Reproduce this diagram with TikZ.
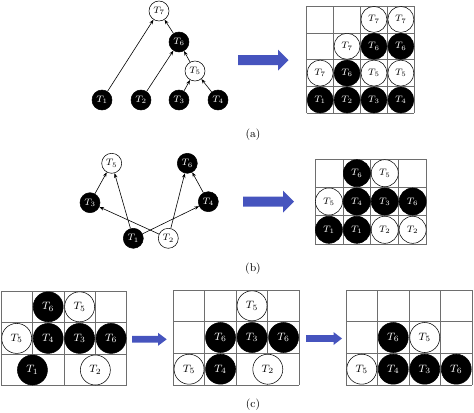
\documentclass[tikz,border=0pt]{standalone}
\usetikzlibrary{arrows.meta}
\definecolor{arrowblue}{RGB}{70,84,190}
\definecolor{gridgray}{RGB}{110,110,110}
\newcommand\drawgridlines[6]{%
  \foreach \i in {0,...,#5} \draw[gline] ({#1+\i*#3},#2) -- ({#1+\i*#3},{#2+#6*#4});
  \foreach \j in {0,...,#6} \draw[gline] (#1,{#2+\j*#4}) -- ({#1+#5*#3},{#2+\j*#4});
}
\newcommand\blockarrow[6]{%
  \fill[arrowblue] (#1,{#4-#5}) -- (#2,{#4-#5}) -- (#2,{#4-#6}) -- (#3,#4) -- (#2,{#4+#6}) -- (#2,{#4+#5}) -- (#1,{#4+#5}) -- cycle;
}
\begin{document}
\begin{tikzpicture}[x=0.75pt,y=-0.75pt,
  tn/.style={circle, draw=black, line width=0.4pt, inner sep=0pt, minimum size=15pt, font=\fontsize{7.3}{8}\selectfont},
  bt/.style={tn, fill=black, text=white},
  wt/.style={tn, fill=white, text=black},
  arr/.style={draw=black, line width=0.45pt, -{Stealth[length=3.5pt,width=2.6pt]}},
  gline/.style={draw=gridgray, line width=0.5pt},
  csa/.style={minimum size=19.5pt, font=\fontsize{7}{8}\selectfont},
  csb/.style={minimum size=20.3pt, font=\fontsize{7.3}{8}\selectfont},
  csc/.style={minimum size=22.5pt, font=\fontsize{8.3}{9}\selectfont},
  captext/.style={font=\fontsize{8.5}{9}\selectfont, inner sep=0pt}
]
\useasboundingbox (0,0) rectangle (474,412);

% ---------- (a) tree ----------
\node[wt] (a7) at (159,11) {$T_7$};
\node[bt] (a6) at (179,42) {$T_6$};
\node[wt] (a5) at (195,71) {$T_5$};
\node[bt] (a1) at (102,100) {$T_1$};
\node[bt] (a2) at (141,100) {$T_2$};
\node[bt] (a3) at (179,100) {$T_3$};
\node[bt] (a4) at (218,100) {$T_4$};
\draw[arr] (a1) -- (a7);
\draw[arr] (a6) -- (a7);
\draw[arr] (a2) -- (a6);
\draw[arr] (a5) -- (a6);
\draw[arr] (a3) -- (a5);
\draw[arr] (a4) -- (a5);

\blockarrow{238}{278}{288.5}{60}{5}{10.5}

% ---------- (a) grid ----------
\drawgridlines{306.7}{6}{26.9}{26.85}{4}{4}
\node[wt,csa] (ga13) at (373.95,19.4) {$T_7$};
\node[wt,csa] (ga14) at (400.85,19.4) {$T_7$};
\node[wt,csa] (ga22) at (347.05,46.3) {$T_7$};
\node[bt,csa] (ga23) at (373.95,46.3) {$T_6$};
\node[bt,csa] (ga24) at (400.85,46.3) {$T_6$};
\node[wt,csa] (ga31) at (320.15,73.1) {$T_7$};
\node[bt,csa] (ga32) at (347.05,73.1) {$T_6$};
\node[wt,csa] (ga33) at (373.95,73.1) {$T_5$};
\node[wt,csa] (ga34) at (400.85,73.1) {$T_5$};
\node[bt,csa] (ga41) at (320.15,100) {$T_1$};
\node[bt,csa] (ga42) at (347.05,100) {$T_2$};
\node[bt,csa] (ga43) at (373.95,100) {$T_3$};
\node[bt,csa] (ga44) at (400.85,100) {$T_4$};

\node[captext] (capa) at (253,135) {(a)};

% ---------- (b) graph ----------
\node[wt] (b5) at (111.7,163.3) {$T_5$};
\node[bt] (b6) at (187.3,163.3) {$T_6$};
\node[bt] (b3) at (90,202.7) {$T_3$};
\node[bt] (b4) at (208.3,201.7) {$T_4$};
\node[bt] (b1) at (133.3,238.3) {$T_1$};
\node[wt] (b2) at (168.3,238.3) {$T_2$};
\draw[arr] (b3) -- (b5);
\draw[arr] (b1) -- (b5);
\draw[arr] (b2) -- (b3);
\draw[arr] (b1) -- (b4);
\draw[arr] (b2) -- (b6);
\draw[arr] (b4) -- (b6);

\blockarrow{243}{283}{294}{201.5}{5}{11}

% ---------- (b) grid ----------
\drawgridlines{315}{159}{27.9}{28.33}{4}{3}
\node[bt,csb] (gb12) at (356.85,173.2) {$T_6$};
\node[wt,csb] (gb13) at (384.75,173.2) {$T_5$};
\node[wt,csb] (gb21) at (328.95,201.5) {$T_5$};
\node[bt,csb] (gb22) at (356.85,201.5) {$T_4$};
\node[bt,csb] (gb23) at (384.75,201.5) {$T_3$};
\node[bt,csb] (gb24) at (412.65,201.5) {$T_6$};
\node[bt,csb] (gb31) at (328.95,229.8) {$T_1$};
\node[bt,csb] (gb32) at (356.85,229.8) {$T_1$};
\node[wt,csb] (gb33) at (384.75,229.8) {$T_2$};
\node[wt,csb] (gb34) at (412.65,229.8) {$T_2$};

\node[captext] (capb) at (253,269) {(b)};

% ---------- (c) grid 1 ----------
\drawgridlines{1}{291}{31.45}{31.6}{4}{3}
\node[bt,csc] (gc12) at (48.2,306.8) {$T_6$};
\node[wt,csc] (gc13) at (79.6,306.8) {$T_5$};
\node[wt,csc] (gc21) at (16.7,338.4) {$T_5$};
\node[bt,csc] (gc22) at (48.2,338.4) {$T_4$};
\node[bt,csc] (gc23) at (79.6,338.4) {$T_3$};
\node[bt,csc] (gc24) at (111.1,338.4) {$T_6$};
\node[bt,csc] (gc31) at (32.45,370) {$T_1$};
\node[wt,csc] (gc32) at (95.35,370) {$T_2$};

\blockarrow{132}{158}{166.7}{339.3}{3.4}{6.5}

% ---------- (c) grid 2 ----------
\drawgridlines{173.3}{290}{31.5}{31.67}{4}{3}
\node[wt,csc] (gd13) at (252.05,305.8) {$T_5$};
\node[bt,csc] (gd22) at (220.55,337.5) {$T_6$};
\node[bt,csc] (gd23) at (252.05,337.5) {$T_3$};
\node[bt,csc] (gd24) at (283.55,337.5) {$T_6$};
\node[wt,csc] (gd31) at (189.05,369.2) {$T_5$};
\node[bt,csc] (gd32) at (220.55,369.2) {$T_4$};
\node[wt,csc] (gd33) at (267.8,369.2) {$T_2$};

\blockarrow{306}{333.5}{342}{338.5}{3.4}{6.5}

% ---------- (c) grid 3 ----------
\drawgridlines{346}{290}{31.5}{31.67}{4}{3}
\node[bt,csc] (ge22) at (393.25,337.5) {$T_6$};
\node[wt,csc] (ge23) at (424.75,337.5) {$T_5$};
\node[wt,csc] (ge31) at (361.75,369.2) {$T_5$};
\node[bt,csc] (ge32) at (393.25,369.2) {$T_4$};
\node[bt,csc] (ge33) at (424.75,369.2) {$T_3$};
\node[bt,csc] (ge34) at (456.25,369.2) {$T_6$};

\node[captext] (capc) at (253,405) {(c)};
\end{tikzpicture}
\end{document}
